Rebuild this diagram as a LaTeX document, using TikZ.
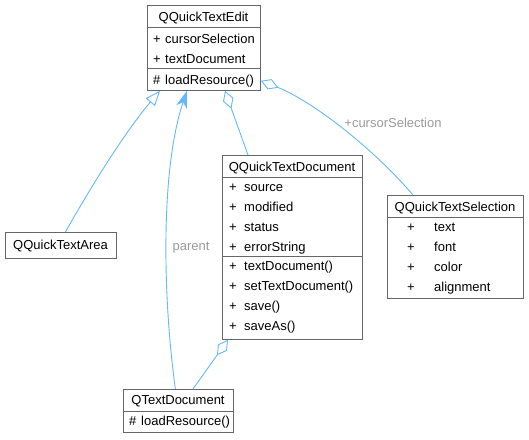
\documentclass[tikz,border=0pt]{standalone}
\usepackage{fontspec}
\setmainfont{Liberation Sans}
\usepackage{tikz}
\usetikzlibrary{arrows.meta}
\usetikzlibrary{positioning}
\definecolor{edgeblue}{HTML}{63B8FF}
\definecolor{boxgray}{HTML}{666666}
\definecolor{labelgray}{HTML}{9A9A9A}
\newcommand{\mbr}[2]{\makebox[#1][l]{#2}}

\begin{document}
\begin{tikzpicture}[x=1pt,y=-1pt,
    font=\fontsize{13}{15}\selectfont,
    classbox/.style={draw=boxgray,anchor=north west,fill=white,inner sep=0pt,line width=0.8pt},
    title/.style={anchor=base,inner sep=0pt},
    member/.style={anchor=base west,inner sep=0pt},
    rule/.style={draw=boxgray,line width=0.8pt},
    link/.style={draw=edgeblue,line width=0.9pt},
    agg/.style={{Diamond[open,length=19pt,width=11pt]}-},
    edgelabel/.style={anchor=base,text=labelgray,inner sep=0pt}]

    \useasboundingbox (0,0) rectangle (529,439);

    % QQuickTextEdit
    \node[classbox,minimum width=113pt,minimum height=85pt] (edit) at (147,5) {};
    \node[title] (editname) at (203.5,21) {QQuickTextEdit};
    \draw[rule] (147,27) -- (260,27);
    \node[member] (edit1) at (153,43) {\mbr{12pt}{+}cursorSelection};
    \node[member] (edit2) at (153,63) {\mbr{12pt}{+}textDocument};
    \draw[rule] (147,68) -- (260,68);
    \node[member] (edit3) at (153,84) {\mbr{12pt}{\#}loadResource()};

    % QQuickTextArea
    \node[classbox,minimum width=111pt,minimum height=26pt] (area) at (5,232) {};
    \node[title] (areaname) at (60.5,249.5) {QQuickTextArea};

    % QQuickTextDocument
    \node[classbox,minimum width=140pt,minimum height=184pt] (doc) at (222,155) {};
    \node[title] (docname) at (292,171) {QQuickTextDocument};
    \draw[rule] (222,177) -- (362,177);
    \node[member] (doc1) at (229,191.5) {\mbr{15pt}{+}source};
    \node[member] (doc2) at (229,211.5) {\mbr{15pt}{+}modified};
    \node[member] (doc3) at (229,231.5) {\mbr{15pt}{+}status};
    \node[member] (doc4) at (229,251) {\mbr{15pt}{+}errorString};
    \draw[rule] (222,256) -- (362,256);
    \node[member] (doc5) at (229,270.5) {\mbr{15pt}{+}textDocument()};
    \node[member] (doc6) at (229,290.5) {\mbr{15pt}{+}setTextDocument()};
    \node[member] (doc7) at (229,310.5) {\mbr{15pt}{+}save()};
    \node[member] (doc8) at (229,330.5) {\mbr{15pt}{+}saveAs()};

    % QQuickTextSelection
    \node[classbox,minimum width=136pt,minimum height=103pt] (sel) at (387,195) {};
    \node[title] (selname) at (455,211.5) {QQuickTextSelection};
    \draw[rule] (387,217) -- (523,217);
    \node[member] (sel1) at (407,231.5) {\mbr{27pt}{+}text};
    \node[member] (sel2) at (407,251.5) {\mbr{27pt}{+}font};
    \node[member] (sel3) at (407,271.5) {\mbr{27pt}{+}color};
    \node[member] (sel4) at (407,291.5) {\mbr{27pt}{+}alignment};

    % QTextDocument
    \node[classbox,minimum width=110pt,minimum height=43pt] (qtd) at (123,389) {};
    \node[title] (qtdname) at (178,404.5) {QTextDocument};
    \draw[rule] (123,411) -- (233,411);
    \node[member] (qtd1) at (129,425.5) {\mbr{12pt}{\#}loadResource()};

    % connectors
    \draw[link,-{Triangle[open,length=15pt,width=12pt]}]
        ([xshift=4.5pt]area.north) .. controls (92,185) and (125,132) .. ([xshift=13pt]edit.south west);
    \draw[link,-{Stealth[length=17pt,width=11pt,inset=5pt]}]
        ([xshift=-3pt]qtd.north) .. controls (163,300) and (160,170) .. ([xshift=40pt]edit.south west);
    \node[edgelabel] (parentlbl) at (191,250) {parent};
    \draw[link,agg]
        ([xshift=78pt]edit.south west) -- ([xshift=26pt]doc.north west);
    \draw[link,agg]
        ([yshift=10pt]edit.south east) .. controls (310,100) and (370,145) .. ([xshift=26pt]sel.north west);
    \node[edgelabel] (sellbl) at (393,127) {+cursorSelection};
    \draw[link,agg]
        ([xshift=6pt]doc.south west) -- ([xshift=70pt]qtd.north west);
\end{tikzpicture}
\end{document}
